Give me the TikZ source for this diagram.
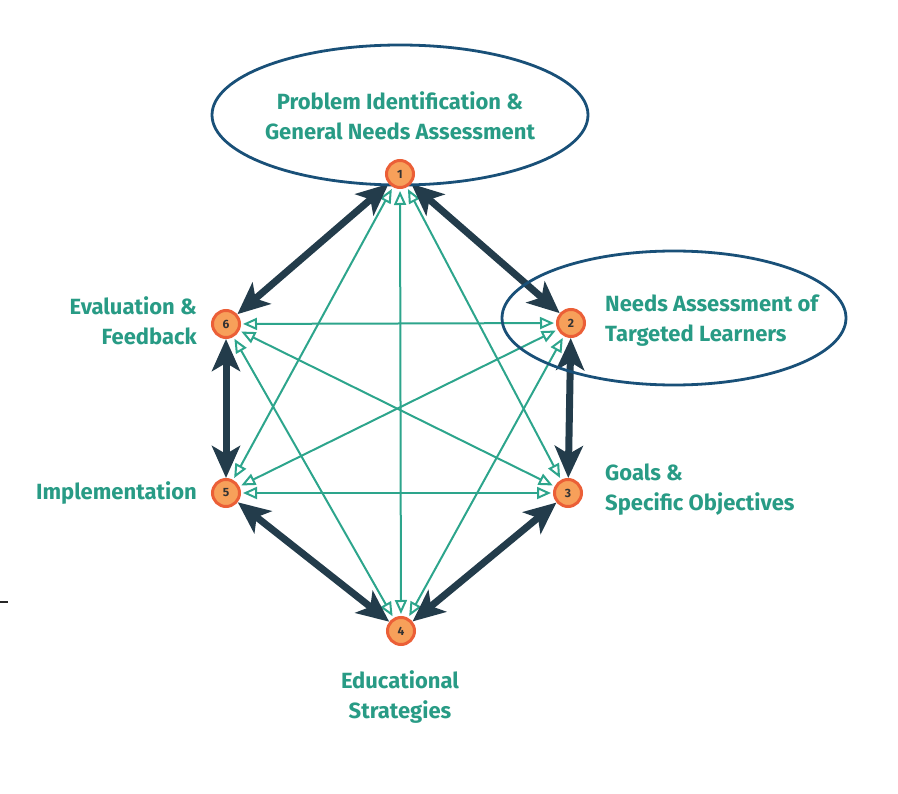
\documentclass[tikz,border=0pt]{standalone}
\usepackage{fontspec}
\setmainfont{Fira Sans}
\usetikzlibrary{arrows.meta,backgrounds}
\definecolor{tealtxt}{RGB}{40,155,133}
\definecolor{tealln}{RGB}{45,165,140}
\definecolor{darkarr}{RGB}{35,60,75}
\definecolor{ellline}{RGB}{25,80,120}
\definecolor{nodefill}{RGB}{247,160,90}
\definecolor{nodedraw}{RGB}{235,95,55}
\begin{document}
\begin{tikzpicture}[x=1pt,y=-1pt,
 num/.style={circle, fill=nodefill, draw=nodedraw, line width=3pt, minimum size=27pt, inner sep=0pt, font=\fontsize{12}{12}\selectfont\bfseries, text=black!80},
 lbl/.style={text=tealtxt, font=\fontsize{22}{30}\selectfont\bfseries, inner sep=0pt},
 bigarrow/.style={draw=darkarr, line width=7pt, {Stealth[length=32pt,width=28pt,inset=8pt]}-{Stealth[length=32pt,width=28pt,inset=8pt]}, shorten <=0pt, shorten >=0pt},
 thinarrow/.style={draw=tealln, line width=2pt, {Triangle[open,length=14pt,width=12pt]}-{Triangle[open,length=14pt,width=12pt]}, shorten <=2pt, shorten >=2pt},
 ell/.style={draw=ellline, line width=2.8pt}]
\useasboundingbox (0,0) rectangle (898,794);
\node[num] (n1) at (400,174) {1};
\node[num] (n2) at (571,323) {2};
\node[num] (n3) at (568,493) {3};
\node[num] (n4) at (401,631) {4};
\node[num] (n5) at (226,493) {5};
\node[num] (n6) at (226,324) {6};
\begin{pgfonlayer}{background}
\draw[thinarrow] (n1) -- (n3);
\draw[thinarrow] (n1) -- (n4);
\draw[thinarrow] (n1) -- (n5);
\draw[thinarrow] (n2) -- (n4);
\draw[thinarrow] (n2) -- (n5);
\draw[thinarrow] (n2) -- (n6);
\draw[thinarrow] (n3) -- (n5);
\draw[thinarrow] (n3) -- (n6);
\draw[thinarrow] (n4) -- (n6);
\draw[bigarrow] (n1) -- (n2);
\draw[bigarrow] (n2) -- (n3);
\draw[bigarrow] (n3) -- (n4);
\draw[bigarrow] (n4) -- (n5);
\draw[bigarrow] (n5) -- (n6);
\draw[bigarrow] (n6) -- (n1);
\draw[ell] (400,115) ellipse [x radius=188, y radius=70];
\draw[ell] (674,318) ellipse [x radius=172, y radius=67];
\end{pgfonlayer}
\node[lbl, align=center] (t1) at (400,116) {Problem Identification \&\\General Needs Assessment};
\node[lbl, align=left, anchor=west] (t2) at (605,321) {Needs Assessment of\\Targeted Learners};
\node[lbl, align=left, anchor=west] (t3) at (605,490) {Goals \&\\Specific Objectives};
\node[lbl, align=center] (t4) at (400,697) {Educational\\Strategies};
\node[lbl, anchor=east] (t5) at (197,493) {Implementation};
\node[lbl, align=right, anchor=east] (t6) at (197,321) {Evaluation \&\\Feedback};
\draw[line width=2.5pt, black!85] (0,602) -- (8,602);
\end{tikzpicture}
\end{document}
